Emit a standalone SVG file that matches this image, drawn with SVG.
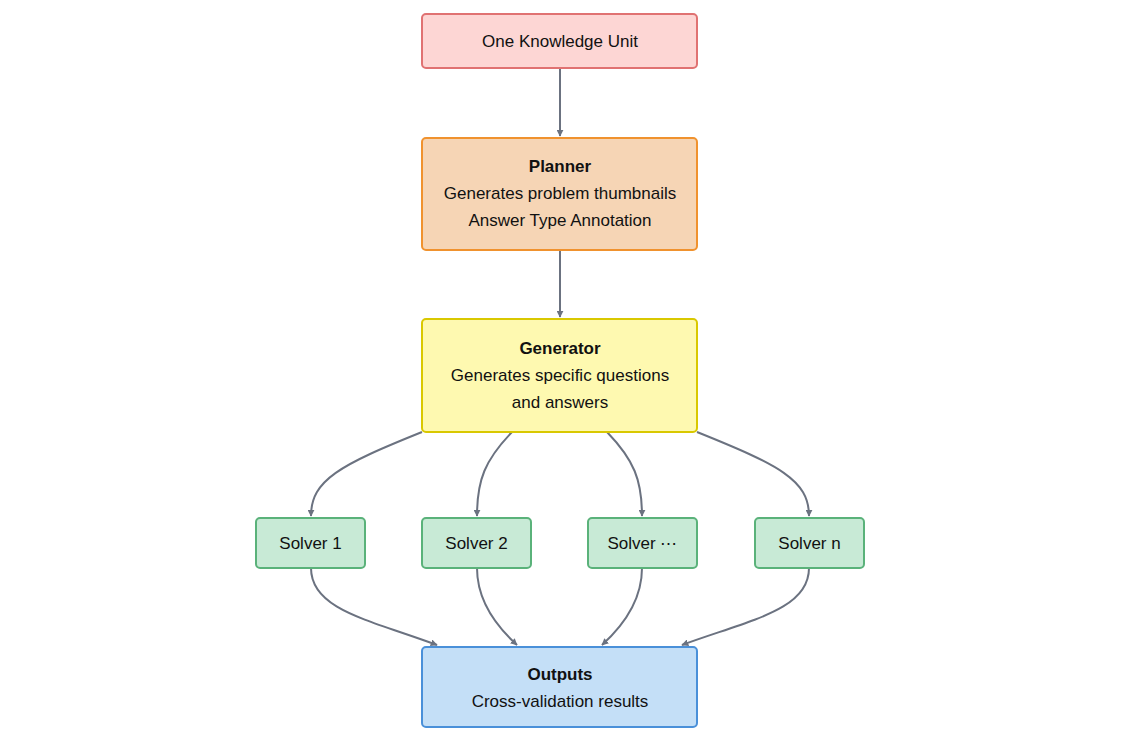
<svg xmlns="http://www.w3.org/2000/svg" width="1130" height="746" viewBox="0 0 1130 746">
<style>
text{font-family:"Helvetica","Liberation Sans",Arial,sans-serif;font-size:17px;fill:#111;text-anchor:middle}
.b{font-weight:bold}
rect{stroke-width:2}
.e path{fill:none;stroke:#6b7280;stroke-width:2;marker-end:url(#a)}
</style>
<defs><marker id="a" viewBox="0 0 10 10" refX="9" refY="5" markerWidth="7" markerHeight="7" markerUnits="userSpaceOnUse" orient="auto"><path d="M0,0L10,5L0,10z" fill="#6b7280" transform="scale(1)"/></marker></defs>
<rect width="1130" height="746" fill="#fff" style="stroke:none"/>
<g class="e">
<path d="M560,68V136"/>
<path d="M560,250V317"/>
<path d="M422,432C340,465 311,480 311,516"/>
<path d="M512,432C485,460 477,480 477,516"/>
<path d="M607,432C634,460 642,480 642,516"/>
<path d="M697,432C779,465 809,480 809,516"/>
<path d="M311,568C311,610 370,620 437,645"/>
<path d="M477,568C477,600 495,625 517,645"/>
<path d="M642,568C642,600 624,625 602,645"/>
<path d="M809,568C809,610 750,620 682,645"/>
</g>
<g id="unit"><rect x="422" y="14" width="275" height="54" rx="4" fill="#fdd6d4" stroke="#e07272"/><text x="560" y="47">One Knowledge Unit</text></g>
<g id="planner"><rect x="422" y="138" width="275" height="112" rx="4" fill="#f6d5b5" stroke="#f0922e"/><text x="560" y="172" class="b">Planner</text><text x="560" y="199">Generates problem thumbnails</text><text x="560" y="226">Answer Type Annotation</text></g>
<g id="generator"><rect x="422" y="319" width="275" height="113" rx="4" fill="#fef9b0" stroke="#d9c800"/><text x="560" y="354" class="b">Generator</text><text x="560" y="381">Generates specific questions</text><text x="560" y="408">and answers</text></g>
<g id="s1"><rect x="256" y="518" width="109" height="50" rx="4" fill="#c8ead6" stroke="#5ab27a"/><text x="310.5" y="549">Solver 1</text></g>
<g id="s2"><rect x="422" y="518" width="109" height="50" rx="4" fill="#c8ead6" stroke="#5ab27a"/><text x="476.5" y="549">Solver 2</text></g>
<g id="s3"><rect x="588" y="518" width="109" height="50" rx="4" fill="#c8ead6" stroke="#5ab27a"/><text x="642.5" y="549">Solver ⋯</text></g>
<g id="sn"><rect x="755" y="518" width="109" height="50" rx="4" fill="#c8ead6" stroke="#5ab27a"/><text x="809.5" y="549">Solver n</text></g>
<g id="outputs"><rect x="422" y="647" width="275" height="80" rx="4" fill="#c4dff7" stroke="#4a90d9"/><text x="560" y="680" class="b">Outputs</text><text x="560" y="707">Cross-validation results</text></g>
</svg>
